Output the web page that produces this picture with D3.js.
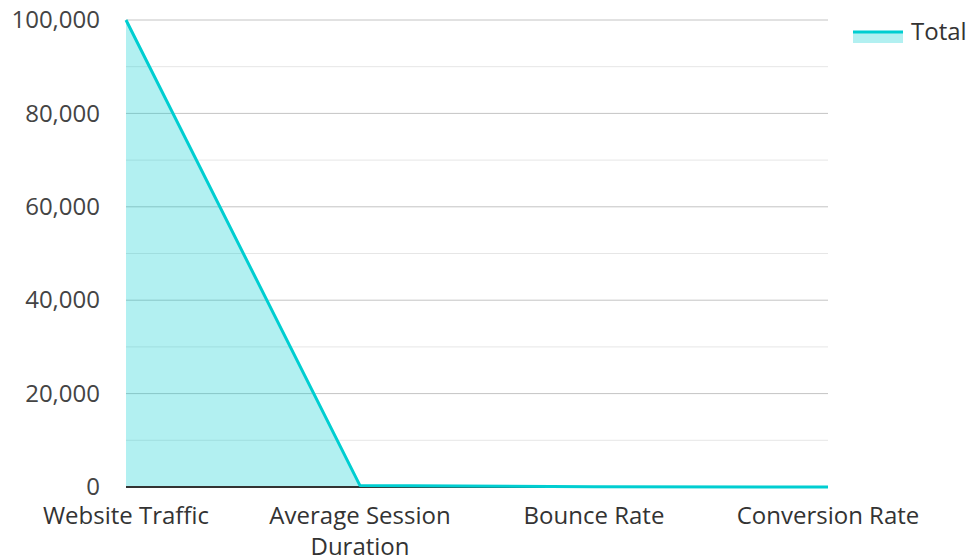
<!DOCTYPE html>
<html><head><meta charset="utf-8">
<script src="https://cdn.jsdelivr.net/npm/d3@7"></script>
<style>html,body{margin:0;padding:0;background:#fff;}svg{display:block;font-family:"Open Sans",sans-serif;}</style>
</head><body><svg id="c" width="969" height="560"></svg>
<script>
const categories = ["Website Traffic", "Average Session Duration", "Bounce Rate", "Conversion Rate"];
const totalValues = [100000, 300, 50, 3];
const yTicks = [0, 20000, 40000, 60000, 80000, 100000];
const yMinorTicks = [10000, 30000, 50000, 70000, 90000];
const seriesName = "Total";

const svg = d3.select("#c");
const m = {l:126, r:141, t:20, b:73};
const W = 969, H = 560;
const x = d3.scalePoint().domain(categories).range([m.l, W - m.r]).padding(0);
const y = d3.scaleLinear().domain([0, 100000]).range([H - m.b, m.t]);
const color = "#00CED1";
const fs = 24;

// minor grid
svg.append("g").selectAll("line").data(yMinorTicks).join("line")
  .attr("x1", m.l).attr("x2", W - m.r)
  .attr("y1", d => y(d)).attr("y2", d => y(d))
  .attr("stroke", "#e6e6e6").attr("stroke-width", 1);
// major grid
svg.append("g").selectAll("line").data(yTicks.filter(d => d > 0)).join("line")
  .attr("x1", m.l).attr("x2", W - m.r)
  .attr("y1", d => y(d)).attr("y2", d => y(d))
  .attr("stroke", "#c4c4c4").attr("stroke-width", 1);

// y labels
const yAxis = d3.axisLeft(y).tickValues(yTicks).tickSize(0).tickPadding(26).tickFormat(d3.format(","));
const yg = svg.append("g").attr("transform", `translate(${m.l},0)`).call(yAxis);
yg.select(".domain").remove();
yg.selectAll("text").attr("font-size", fs).attr("fill", "#444").attr("font-family", "'Open Sans',sans-serif");

// area + line
const pts = categories.map((c, i) => ({c, v: totalValues[i]}));
svg.append("path").datum(pts)
  .attr("d", d3.area().x(d => x(d.c)).y0(y(0)).y1(d => y(d.v)))
  .attr("fill", color).attr("fill-opacity", 0.3);

// baseline
svg.append("line").attr("x1", m.l).attr("x2", W - m.r).attr("y1", y(0)).attr("y2", y(0))
  .attr("stroke", "#333").attr("stroke-width", 2);

svg.append("path").datum(pts)
  .attr("d", d3.line().x(d => x(d.c)).y(d => y(d.v)))
  .attr("fill", "none").attr("stroke", color).attr("stroke-width", 3).attr("stroke-linejoin", "round");

// x labels
const xg = svg.append("g");
categories.forEach(d => {
  const lines = d === "Average Session Duration" ? ["Average Session", "Duration"] : [d];
  lines.forEach((ln, i) => xg.append("text")
    .attr("x", x(d)).attr("y", y(0) + 37 + i * 31)
    .attr("text-anchor", "middle").attr("font-size", fs).attr("fill", "#333")
    .text(ln));
});

// legend
const lg = svg.append("g").attr("transform", "translate(853,0)");
lg.append("rect").attr("x", 0).attr("y", 33).attr("width", 50).attr("height", 10).attr("fill", color).attr("fill-opacity", 0.3);
lg.append("line").attr("x1", 0).attr("x2", 50).attr("y1", 32).attr("y2", 32).attr("stroke", color).attr("stroke-width", 3);
lg.append("text").attr("x", 58).attr("y", 40).attr("font-size", fs).attr("fill", "#333").text(seriesName);
</script></body></html>
